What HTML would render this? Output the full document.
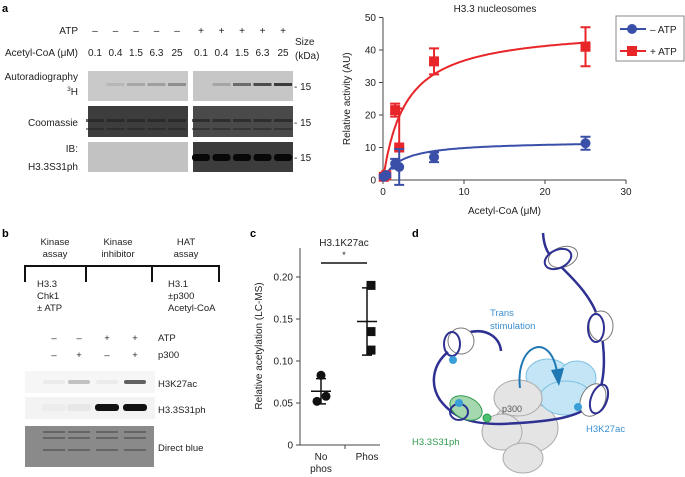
<!DOCTYPE html>
<html><head><meta charset="utf-8"><style>
body{margin:0;background:#fff;}
svg{display:block;font-family:"Liberation Sans",sans-serif;}
</style></head><body>
<svg id="fig" width="685" height="477" viewBox="0 0 685 477">
<text x="2" y="12" font-size="11" font-weight="bold">a</text>
<text x="2" y="237" font-size="11" font-weight="bold">b</text>
<text x="250" y="237" font-size="11" font-weight="bold">c</text>
<text x="412" y="237" font-size="11" font-weight="bold">d</text>

<g font-size="10" fill="#222">
<text x="78" y="34" text-anchor="end">ATP</text>
<text x="78" y="56" text-anchor="end">Acetyl-CoA (μM)</text>
<text x="295" y="45">Size</text><text x="295" y="59">(kDa)</text>
<text x="78" y="80" text-anchor="end">Autoradiography</text>
<text x="78" y="95" text-anchor="end"><tspan font-size="6.5" dy="-4">3</tspan><tspan dy="4">H</tspan></text>
<text x="78" y="126" text-anchor="end">Coomassie</text>
<text x="78" y="152" text-anchor="end">IB:</text>
<text x="78" y="170" text-anchor="end">H3.3S31ph</text>
<g id="lanesA"></g>
<rect x="88" y="71" width="100" height="30" fill="#c9c9c9"/>
<rect x="193" y="71" width="100" height="30" fill="#c6c6c6"/>
<rect x="88" y="106" width="100" height="31" fill="#3d3d3d"/>
<rect x="193" y="106" width="100" height="31" fill="#4a4a4a"/>
<rect x="88" y="142" width="100" height="30" fill="#c2c2c2"/>
<rect x="193" y="142" width="100" height="30" fill="#3c3c3c"/>
<g id="bandsA"></g>
<text x="294" y="90">- 15</text><text x="294" y="126">- 15</text><text x="294" y="161">- 15</text>
</g>

<g id="chartA"></g>

<g font-size="9.5" fill="#222">
<text x="55" y="245" text-anchor="middle">Kinase</text><text x="55" y="257" text-anchor="middle">assay</text>
<text x="118" y="245" text-anchor="middle">Kinase</text><text x="118" y="257" text-anchor="middle">inhibitor</text>
<text x="186" y="245" text-anchor="middle">HAT</text><text x="186" y="257" text-anchor="middle">assay</text>
<path d="M25,282 V266 H219 V282 M86,266 V282 M152,266 V282" stroke="#111" stroke-width="2" fill="none"/>
<text x="37" y="287">H3.3</text><text x="37" y="299">Chk1</text><text x="37" y="311">± ATP</text>
<text x="168" y="287">H3.1</text><text x="168" y="299">±p300</text><text x="168" y="311">Acetyl-CoA</text>
<g id="lanesB"></g>
<text x="158" y="341">ATP</text><text x="158" y="358">p300</text>
<rect x="25" y="371" width="130" height="22" fill="#f6f6f6"/>
<rect x="25" y="397" width="130" height="22" fill="#f3f3f3"/>
<rect x="25" y="426" width="129" height="41" fill="#8a8a8a"/>
<g id="bandsB"></g>
<text x="158" y="387">H3K27ac</text><text x="158" y="413">H3.3S31ph</text><text x="158" y="451">Direct blue</text>
</g>

<g id="chartC"></g>

<g>
<g fill="#e4e4e4" stroke="#aaa" stroke-width="1">
<ellipse cx="525" cy="428" rx="33" ry="26"/>
<ellipse cx="502" cy="432" rx="20" ry="18"/>
<ellipse cx="523" cy="458" rx="20" ry="15"/>
</g>
<g fill="#c4e5f5" stroke="#7cc0e2" stroke-width="1">
<ellipse cx="548" cy="376" rx="22" ry="17"/>
<ellipse cx="577" cy="378" rx="19" ry="17"/>
<ellipse cx="566" cy="398" rx="26" ry="17"/>
</g>
<ellipse cx="518" cy="398" rx="24" ry="18" fill="#e4e4e4" stroke="#aaa"/>
<path d="M543,233 C544,248 548,254 556,262 C575,280 595,300 600,325 C606,355 605,380 597,398 C585,418 550,422 500,424 C475,424 455,420 440,400 C430,385 432,365 448,352 M470,332 C490,328 500,340 501,351" stroke="#2e3192" stroke-width="2.5" fill="none"/>
<g fill="#fff" stroke="#777" stroke-width="1">
<ellipse cx="563" cy="257" rx="15" ry="10" transform="rotate(-20 563 257)"/>
<ellipse cx="601" cy="326" rx="12" ry="15"/>
<ellipse cx="593" cy="400" rx="12" ry="17" transform="rotate(25 593 400)"/>
<ellipse cx="461" cy="341" rx="13" ry="13"/>
</g>
<ellipse cx="466" cy="408" rx="17" ry="11" fill="#a5d8ae" stroke="#2f9a4f" transform="rotate(25 466 408)"/>
<g fill="none" stroke="#2e3192" stroke-width="2">
<ellipse cx="558" cy="259" rx="14" ry="9" transform="rotate(-25 558 259)"/>
<ellipse cx="596" cy="328" rx="8" ry="14"/>
<ellipse cx="599" cy="399" rx="8" ry="15" transform="rotate(20 599 399)"/>
<ellipse cx="452" cy="344" rx="8" ry="12"/>
<ellipse cx="459" cy="412" rx="9" ry="8"/>
</g>
<circle cx="453" cy="360" r="4" fill="#3a9fd8"/>
<circle cx="459" cy="403" r="4" fill="#3a9fd8"/>
<circle cx="578" cy="407" r="4" fill="#3a9fd8"/>
<circle cx="487" cy="418" r="4" fill="#4cbf70" stroke="#2f9a4f"/>
<path d="M520,388 C515,345 550,330 557,372" stroke="#1f78b4" stroke-width="2" fill="none"/>
<path d="M551,370 L559,386 L564,368 Z" fill="#1f78b4"/>
<text x="490" y="316" font-size="9.5" fill="#3a8fd0">Trans</text>
<text x="490" y="329" font-size="9.5" fill="#3a8fd0">stimulation</text>
<text x="502" y="412" font-size="9" fill="#555">p300</text>
<text x="412" y="445" font-size="9.5" fill="#2f9a4f">H3.3S31ph</text>
<text x="586" y="432" font-size="9.5" fill="#3a8fd0">H3K27ac</text>
</g>
</svg>
<script>
const NS="http://www.w3.org/2000/svg";
function mk(tag,attrs,parent){const e=document.createElementNS(NS,tag);for(const k in attrs)e.setAttribute(k,attrs[k]);parent.appendChild(e);return e;}

// ---- Panel a chart data ----
const concX=[0.1,0.4,1.5,2,6.3,25];
const minusATP=[1,1.5,5,4,7,11.3];
const minusErr=[0.5,0.5,1.5,5.5,1.5,2];
const plusATP=[1,1.5,21.5,10,36.5,41];
const plusErr=[0.5,0.5,2,0,4,6];
const plusErrUp=[0.5,0.5,2,12,4,6];
const fitMinus=[12,2.2];
const fitPlus=[47,2.8];
const xTicksA=[0,10,20,30];
const yTicksA=[0,10,20,30,40,50];

const gA=document.getElementById('chartA');
const xA=v=>383+v*(626-383)/30, yA=v=>180-v*(162.5/50);
let t0=mk('text',{x:495,y:12,'font-size':10,'text-anchor':'middle',fill:'#222'},gA);t0.textContent='H3.3 nucleosomes';
mk('path',{d:`M${xA(0)},${yA(50)} V${yA(0)} H${xA(30)}`,stroke:'#444',fill:'none','stroke-width':1},gA);
yTicksA.forEach(t=>{mk('line',{x1:xA(0)-4,x2:xA(0),y1:yA(t),y2:yA(t),stroke:'#444'},gA);
 const tx=mk('text',{x:xA(0)-7,y:yA(t)+3.5,'font-size':10,'text-anchor':'end',fill:'#222'},gA);tx.textContent=t;});
xTicksA.forEach(t=>{mk('line',{x1:xA(t),x2:xA(t),y1:yA(0),y2:yA(0)+4,stroke:'#444'},gA);
 const tx=mk('text',{x:xA(t),y:yA(0)+15,'font-size':10,'text-anchor':'middle',fill:'#222'},gA);tx.textContent=t;});
mk('text',{x:xA(15),y:214,'font-size':10,'text-anchor':'middle',fill:'#222'},gA).textContent='Acetyl-CoA (μM)';
mk('text',{x:350,y:yA(25),'font-size':10,'text-anchor':'middle',fill:'#222',transform:`rotate(-90 350 ${yA(25)})`},gA).textContent='Relative activity (AU)';
function curve(p,col){let d='';for(let i=0;i<=200;i++){const x=0.05+i*(25.5/200);const y=p[0]*x/(p[1]+x);d+=(i?'L':'M')+xA(x).toFixed(1)+','+yA(y).toFixed(1);}
 mk('path',{d,stroke:col,'stroke-width':2,fill:'none'},gA);}
curve(fitPlus,'#e8262a');curve(fitMinus,'#3a4fa8');
function series(vals,lo,hi,col,shape){vals.forEach((v,i)=>{const cx=xA(concX[i]),cy=yA(v);
 mk('path',{d:`M${cx},${yA(v-lo[i])}V${yA(v+hi[i])}M${cx-5},${yA(v-lo[i])}h10M${cx-5},${yA(v+hi[i])}h10`,stroke:col,'stroke-width':2,fill:'none'},gA);
 if(shape==='sq')mk('rect',{x:cx-5,y:cy-5,width:10,height:10,fill:col},gA);else mk('circle',{cx,cy,r:5,fill:col},gA);});}
series(plusATP,plusErr,plusErrUp,'#e8262a','sq');
series(minusATP,minusErr,minusErr,'#3a4fa8','c');
mk('rect',{x:616,y:16,width:68,height:45,fill:'#fff',stroke:'#888'},gA);
mk('line',{x1:620,x2:646,y1:29,y2:29,stroke:'#3a4fa8','stroke-width':2},gA);mk('circle',{cx:632,cy:29,r:5,fill:'#3a4fa8'},gA);
mk('text',{x:650,y:33,'font-size':10,fill:'#222'},gA).textContent='– ATP';
mk('line',{x1:620,x2:646,y1:51,y2:51,stroke:'#e8262a','stroke-width':2},gA);mk('rect',{x:627,y:46,width:10,height:10,fill:'#e8262a'},gA);
mk('text',{x:650,y:55,'font-size':10,fill:'#222'},gA).textContent='+ ATP';

// ---- Panel a blot lanes ----
const laneLabels=['0.1','0.4','1.5','6.3','25'];
const autoL=[0,0.1,0.2,0.25,0.35], autoR=[0,0.2,0.55,0.75,0.85];
const lanesA=document.getElementById('lanesA'), bandsA=document.getElementById('bandsA');
for(let g=0;g<2;g++)laneLabels.forEach((l,i)=>{const x=(g?201:95)+i*20.5;
 mk('text',{x,y:34,'text-anchor':'middle'},lanesA).textContent=g?'+':'–';
 mk('text',{x,y:56,'text-anchor':'middle'},lanesA).textContent=l;
 const a=(g?autoR:autoL)[i];
 mk('rect',{x:x-9,y:83,width:18,height:3,fill:'#222',opacity:a},bandsA);
 mk('rect',{x:x-9,y:119,width:18,height:3,fill:'#222',opacity:0.7},bandsA);
 mk('rect',{x:x-9,y:128,width:18,height:2,fill:'#222',opacity:0.5},bandsA);
 if(g)mk('rect',{x:x-9,y:154,width:18,height:7,rx:3,fill:'#080808'},bandsA);});

// ---- Panel b lanes ----
const atpB=['–','–','+','+'], p300B=['–','+','–','+'];
const k27=[0.05,0.25,0.05,0.7], s31=[0.03,0.05,1,1];
const lanesB=document.getElementById('lanesB'), bandsB=document.getElementById('bandsB');
[54,79,107,135].forEach((x,i)=>{
 mk('text',{x,y:341,'text-anchor':'middle'},lanesB).textContent=atpB[i];
 mk('text',{x,y:358,'text-anchor':'middle'},lanesB).textContent=p300B[i];
 mk('rect',{x:x-11,y:380,width:22,height:4,rx:2,fill:'#222',opacity:k27[i]},bandsB);
 mk('rect',{x:x-12,y:404,width:24,height:7,rx:3,fill:'#111',opacity:s31[i]},bandsB);
 [431,437,449].forEach(y=>mk('rect',{x:x-11,y,width:22,height:2,fill:'#555',opacity:0.7},bandsB));});

// ---- Panel c ----
const groupsC=['No phos','Phos'];
const noPhos=[0.083,0.058,0.052];
const phos=[0.19,0.135,0.113];
const meansC=[0.064,0.147];
const sdC=[0.015,0.04];
const yTicksC=[0,0.05,0.10,0.15,0.20];
const yTickLabC=['0','0.05','0.10','0.15','0.20'];
const gC=document.getElementById('chartC');
const yC=v=>445-v*(168/0.2), xC=[321,367];
mk('text',{x:344,y:246,'font-size':10,'text-anchor':'middle',fill:'#222'},gC).textContent='H3.1K27ac';
mk('path',{d:`M300,248 V445 H380`,stroke:'#444',fill:'none'},gC);
mk('line',{x1:345,x2:345,y1:445,y2:449,stroke:'#444'},gC);
yTicksC.forEach((t,i)=>{mk('line',{x1:296,x2:300,y1:yC(t),y2:yC(t),stroke:'#444'},gC);
 mk('text',{x:293,y:yC(t)+3.5,'font-size':10,'text-anchor':'end',fill:'#222'},gC).textContent=yTickLabC[i];});
mk('text',{x:262,y:346,'font-size':10,'text-anchor':'middle',fill:'#222',transform:'rotate(-90 262 346)'},gC).textContent='Relative acetylation (LC-MS)';
mk('text',{x:321,y:460,'font-size':10,'text-anchor':'middle',fill:'#222'},gC).textContent='No';
mk('text',{x:321,y:472,'font-size':10,'text-anchor':'middle',fill:'#222'},gC).textContent='phos';
mk('text',{x:367,y:460,'font-size':10,'text-anchor':'middle',fill:'#222'},gC).textContent='Phos';
mk('line',{x1:321,x2:367,y1:263,y2:263,stroke:'#111','stroke-width':1.5},gC);
mk('text',{x:344,y:258,'font-size':9,'text-anchor':'middle',fill:'#222'},gC).textContent='*';
[noPhos,phos].forEach((arr,g)=>{const cx=xC[g];
 mk('path',{d:`M${cx},${yC(meansC[g]-sdC[g])}V${yC(meansC[g]+sdC[g])}M${cx-5},${yC(meansC[g]-sdC[g])}h10M${cx-5},${yC(meansC[g]+sdC[g])}h10M${cx-10},${yC(meansC[g])}h20`,stroke:'#111','stroke-width':1.5,fill:'none'},gC);
 arr.forEach((v,i)=>{const px=cx+(g?4:[0,5,-4][i]);
  if(g)mk('rect',{x:px-4.5,y:yC(v)-4.5,width:9,height:9,fill:'#111'},gC);else mk('circle',{cx:px,cy:yC(v),r:4.5,fill:'#111'},gC);});});
</script>
</body></html>
